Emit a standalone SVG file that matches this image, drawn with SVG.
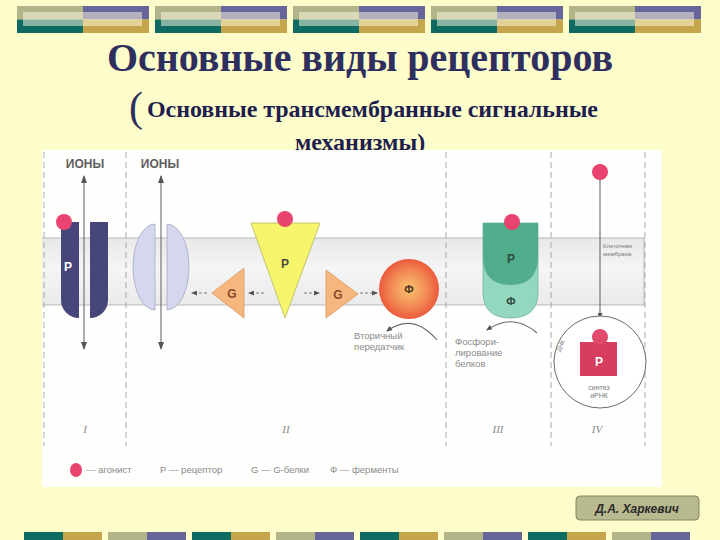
<svg xmlns="http://www.w3.org/2000/svg" width="720" height="540" viewBox="0 0 720 540">
<style>
.ttl{font-family:"Liberation Serif","Times New Roman",serif;font-weight:bold;fill:#2f2f5f}
.sans{font-family:"Liberation Sans",Arial,sans-serif}
.lbl{font-family:"Liberation Sans",Arial,sans-serif;font-weight:bold;font-size:12px;fill:#5e5e5e;text-anchor:middle}
.small{font-family:"Liberation Sans",Arial,sans-serif;font-size:9.5px;fill:#8a8a8a}
.tiny{font-family:"Liberation Sans",Arial,sans-serif;font-size:6px;fill:#7a7a7a}
.rom{font-family:"Liberation Serif","Times New Roman",serif;font-style:italic;font-size:11px;fill:#8a8a8a;text-anchor:middle}
.sep{stroke:#a8a8a8;stroke-width:1;stroke-dasharray:6 4;fill:none}
.ag{fill:#e8446f}
.pw{font-family:"Liberation Sans",Arial,sans-serif;font-weight:bold;font-size:12px;fill:#ffffff;text-anchor:middle}
.pd{font-family:"Liberation Sans",Arial,sans-serif;font-weight:bold;font-size:12px;fill:#4a4a3a;text-anchor:middle}
.arr{stroke:#6a6a6a;stroke-width:1.1;fill:none}
.darr{stroke:#7a7a7a;stroke-width:1.1;fill:none;stroke-dasharray:3 2}
</style>
<defs>
<marker id="ah" markerUnits="userSpaceOnUse" markerWidth="8" markerHeight="6" refX="7" refY="3" orient="auto-start-reverse">
<path d="M0,0 L8,3 L0,6 Z" fill="#555"/>
</marker>
<marker id="ahs" markerUnits="userSpaceOnUse" markerWidth="6" markerHeight="5" refX="5" refY="2.5" orient="auto-start-reverse">
<path d="M0,0 L6,2.5 L0,5 Z" fill="#555"/>
</marker>
<linearGradient id="mem" x1="0" y1="0" x2="0" y2="1">
<stop offset="0" stop-color="#e8e8e8"/>
<stop offset="0.45" stop-color="#f5f5f5"/>
<stop offset="1" stop-color="#eaeaea"/>
</linearGradient>
<radialGradient id="fball" cx="0.5" cy="0.5" r="0.5">
<stop offset="0" stop-color="#f9c46e"/>
<stop offset="0.6" stop-color="#f28a55"/>
<stop offset="1" stop-color="#ec5a3c"/>
</radialGradient>
<g id="hb">
<rect x="0" y="0" width="66" height="13.5" fill="#b4b48a"/>
<rect x="66" y="0" width="66" height="13.5" fill="#66669a"/>
<rect x="0" y="13.5" width="66" height="13.5" fill="#0e6b62"/>
<rect x="66" y="13.5" width="66" height="13.5" fill="#c6a64c"/>
<rect x="6" y="6" width="119" height="14" fill="#fffbe2" opacity="0.5"/>
</g>
<g id="bp1">
<rect x="0" y="0" width="39" height="8" fill="#0e6b62"/>
<rect x="39" y="0" width="39" height="8" fill="#c6a64c"/>
</g>
<g id="bp2">
<rect x="0" y="0" width="39" height="8" fill="#b4b48a"/>
<rect x="39" y="0" width="39" height="8" fill="#66669a"/>
</g>
</defs>

<rect width="720" height="540" fill="#fdfdcb"/>

<g id="banner-top">
<use href="#hb" transform="translate(17,6)"/>
<use href="#hb" transform="translate(155,6)"/>
<use href="#hb" transform="translate(293,6)"/>
<use href="#hb" transform="translate(431,6)"/>
<use href="#hb" transform="translate(569,6)"/>
</g>
<g id="banner-bottom">
<use href="#bp1" transform="translate(24,532)"/>
<use href="#bp2" transform="translate(108,532)"/>
<use href="#bp1" transform="translate(192,532)"/>
<use href="#bp2" transform="translate(276,532)"/>
<use href="#bp1" transform="translate(360,532)"/>
<use href="#bp2" transform="translate(444,532)"/>
<use href="#bp1" transform="translate(528,532)"/>
<use href="#bp2" transform="translate(612,532)"/>
</g>

<g id="title">
<text class="ttl" x="360" y="71" font-size="40" text-anchor="middle" textLength="506" lengthAdjust="spacing">Основные виды рецепторов</text>
<text x="129" y="121" font-family="Liberation Serif, serif" font-size="42" fill="#2f2f5f">(</text>
<text class="ttl" x="147" y="117" font-size="24" textLength="451" lengthAdjust="spacing" style="fill:#1e1e4e">Основные трансмембранные сигнальные</text>
<text class="ttl" x="360" y="150" font-size="24" text-anchor="middle" style="fill:#1e1e4e">механизмы)</text>
</g>

<g id="panel">
<rect x="42" y="150" width="620" height="337" fill="#fefefd"/>
<rect x="42" y="238" width="603" height="67" fill="url(#mem)"/>
<line x1="42" y1="238" x2="645" y2="238" stroke="#a9a9a9" stroke-width="0.8"/>
<line x1="42" y1="305" x2="645" y2="305" stroke="#a9a9a9" stroke-width="0.8"/>
<line x1="644" y1="238" x2="644" y2="305" stroke="#a9a9a9" stroke-width="0.8"/>
</g>

<g id="separators">
<line class="sep" x1="44" y1="152" x2="44" y2="446"/>
<line class="sep" x1="126" y1="152" x2="126" y2="446"/>
<line class="sep" x1="446" y1="152" x2="446" y2="446"/>
<line class="sep" x1="551" y1="152" x2="551" y2="446"/>
<line class="sep" x1="645" y1="152" x2="645" y2="446"/>
</g>

<g id="connectors">
<line class="arr" x1="84" y1="176" x2="84" y2="349" marker-start="url(#ah)" marker-end="url(#ah)"/>
<line class="arr" x1="161" y1="176" x2="161" y2="349" marker-start="url(#ah)" marker-end="url(#ah)"/>
<line class="darr" x1="207" y1="293" x2="192" y2="293" marker-end="url(#ahs)"/>
<line class="darr" x1="264" y1="293" x2="249" y2="293" marker-end="url(#ahs)"/>
<line class="darr" x1="304" y1="293" x2="319" y2="293" marker-end="url(#ahs)"/>
<line class="darr" x1="360" y1="293" x2="377" y2="293" marker-end="url(#ahs)"/>
<path class="arr" d="M437,340 Q413,312 387,331" stroke="#8a8a8a" stroke-width="0.9" marker-end="url(#ahs)"/>
<path class="arr" d="M537,333 Q513,312 487,330" stroke="#8a8a8a" stroke-width="0.9" marker-end="url(#ahs)"/>
<line class="arr" x1="600" y1="172" x2="600" y2="318" stroke="#777" stroke-width="0.9" marker-end="url(#ahs)"/>
<path class="arr" d="M618,368 Q636,378 621,390" stroke="#666" stroke-width="0.9" marker-end="url(#ahs)"/>
</g>

<g id="node-ion-channel-receptor">
<path d="M61,222 H79 V318 A18 18 0 0 1 61 300 Z" fill="#47467a"/>
<path d="M90,222 H108 V300 A18 18 0 0 1 90 318 Z" fill="#47467a"/>
<circle class="ag" cx="64" cy="222" r="8"/>
<text class="pw" x="68" y="271">P</text>
<text class="lbl" x="85" y="168">ИОНЫ</text>
</g>

<g id="node-ion-channel-g">
<path d="M155,224 A22 43 0 0 0 155 310 Z" fill="#d4d7ee" stroke="#a4a8c4" stroke-width="0.8"/>
<path d="M167,224 A22 43 0 0 1 167 310 Z" fill="#d4d7ee" stroke="#a4a8c4" stroke-width="0.8"/>
<text class="lbl" x="160" y="168">ИОНЫ</text>
</g>

<g id="node-g-left">
<polygon points="212,293 244,268 244,318" fill="#f5b77e" stroke="#d9975c" stroke-width="0.8"/>
<text class="pd" x="232" y="298" style="fill:#8a4a2a">G</text>
</g>

<g id="node-receptor-gpcr">
<polygon points="251,223 320,223 285,318" fill="#f6f56c" stroke="#b7b766" stroke-width="0.8"/>
<circle class="ag" cx="285" cy="219" r="8"/>
<text class="pd" x="285" y="268">P</text>
</g>

<g id="node-g-right">
<polygon points="326,270 326,318 358,294" fill="#f5b77e" stroke="#d9975c" stroke-width="0.8"/>
<text class="pd" x="338" y="299" style="fill:#8a4a2a">G</text>
</g>

<g id="node-enzyme">
<circle cx="409" cy="289" r="30" fill="url(#fball)"/>
<text class="pd" x="409" y="293" style="font-size:11px;fill:#4a3020">Ф</text>
<text class="small" x="354" y="339">Вторичный</text>
<text class="small" x="354" y="350">передатчик</text>
</g>

<g id="node-enzyme-receptor">
<path d="M483,223 H538 V292 Q538,318 510.5,318 Q483,318 483,292 Z" fill="#93d7be" stroke="#6fb49a" stroke-width="0.8"/>
<path d="M483,223 H538 V256 Q538,285 510.5,285 Q483,285 483,256 Z" fill="#52ad8d"/>
<circle class="ag" cx="512" cy="222" r="8"/>
<text class="pd" x="511" y="263" style="fill:#2e4a3e">P</text>
<text class="pd" x="511" y="305" style="font-size:11px;fill:#2e4a3e">Ф</text>
<text class="small" x="455" y="345">Фосфори-</text>
<text class="small" x="455" y="356">лирование</text>
<text class="small" x="455" y="367">белков</text>
</g>

<g id="node-intracellular">
<circle class="ag" cx="600" cy="172" r="8"/>
<circle cx="600" cy="362" r="46" fill="#ffffff" stroke="#6a6a6a" stroke-width="1"/>
<rect x="580" y="342" width="37" height="34" fill="#d63d5e"/>
<circle cx="600" cy="337" r="8" fill="#e24a6c"/>
<text class="pw" x="599" y="366">P</text>
<text class="tiny" x="599" y="390" text-anchor="middle" style="font-size:7px">синтез</text>
<text class="tiny" x="599" y="398" text-anchor="middle" style="font-size:7px">иРНК</text>
<text class="tiny" x="560" y="352" transform="rotate(-65 560 352)" style="font-size:6px">ДНК</text>
<text class="tiny" x="603" y="248">Клеточная</text>
<text class="tiny" x="603" y="256">мембрана</text>
</g>

<g id="numerals">
<text class="rom" x="85" y="433">I</text>
<text class="rom" x="286" y="433">II</text>
<text class="rom" x="498" y="433">III</text>
<text class="rom" x="597" y="433">IV</text>
</g>

<g id="legend">
<ellipse class="ag" cx="76" cy="470" rx="6" ry="7"/>
<text class="small" x="86" y="473">— агонист</text>
<text class="small" x="160" y="473">Р — рецептор</text>
<text class="small" x="251" y="473">G — G-белки</text>
<text class="small" x="330" y="473">Ф — ферменты</text>
</g>

<g id="author">
<rect x="576" y="496" width="123" height="24" rx="4" fill="#b8b98e" stroke="#85865e" stroke-width="1"/>
<text x="637" y="513" text-anchor="middle" class="sans" font-size="12" font-style="italic" font-weight="bold" fill="#2a2a2a">Д.А. Харкевич</text>
</g>
</svg>
